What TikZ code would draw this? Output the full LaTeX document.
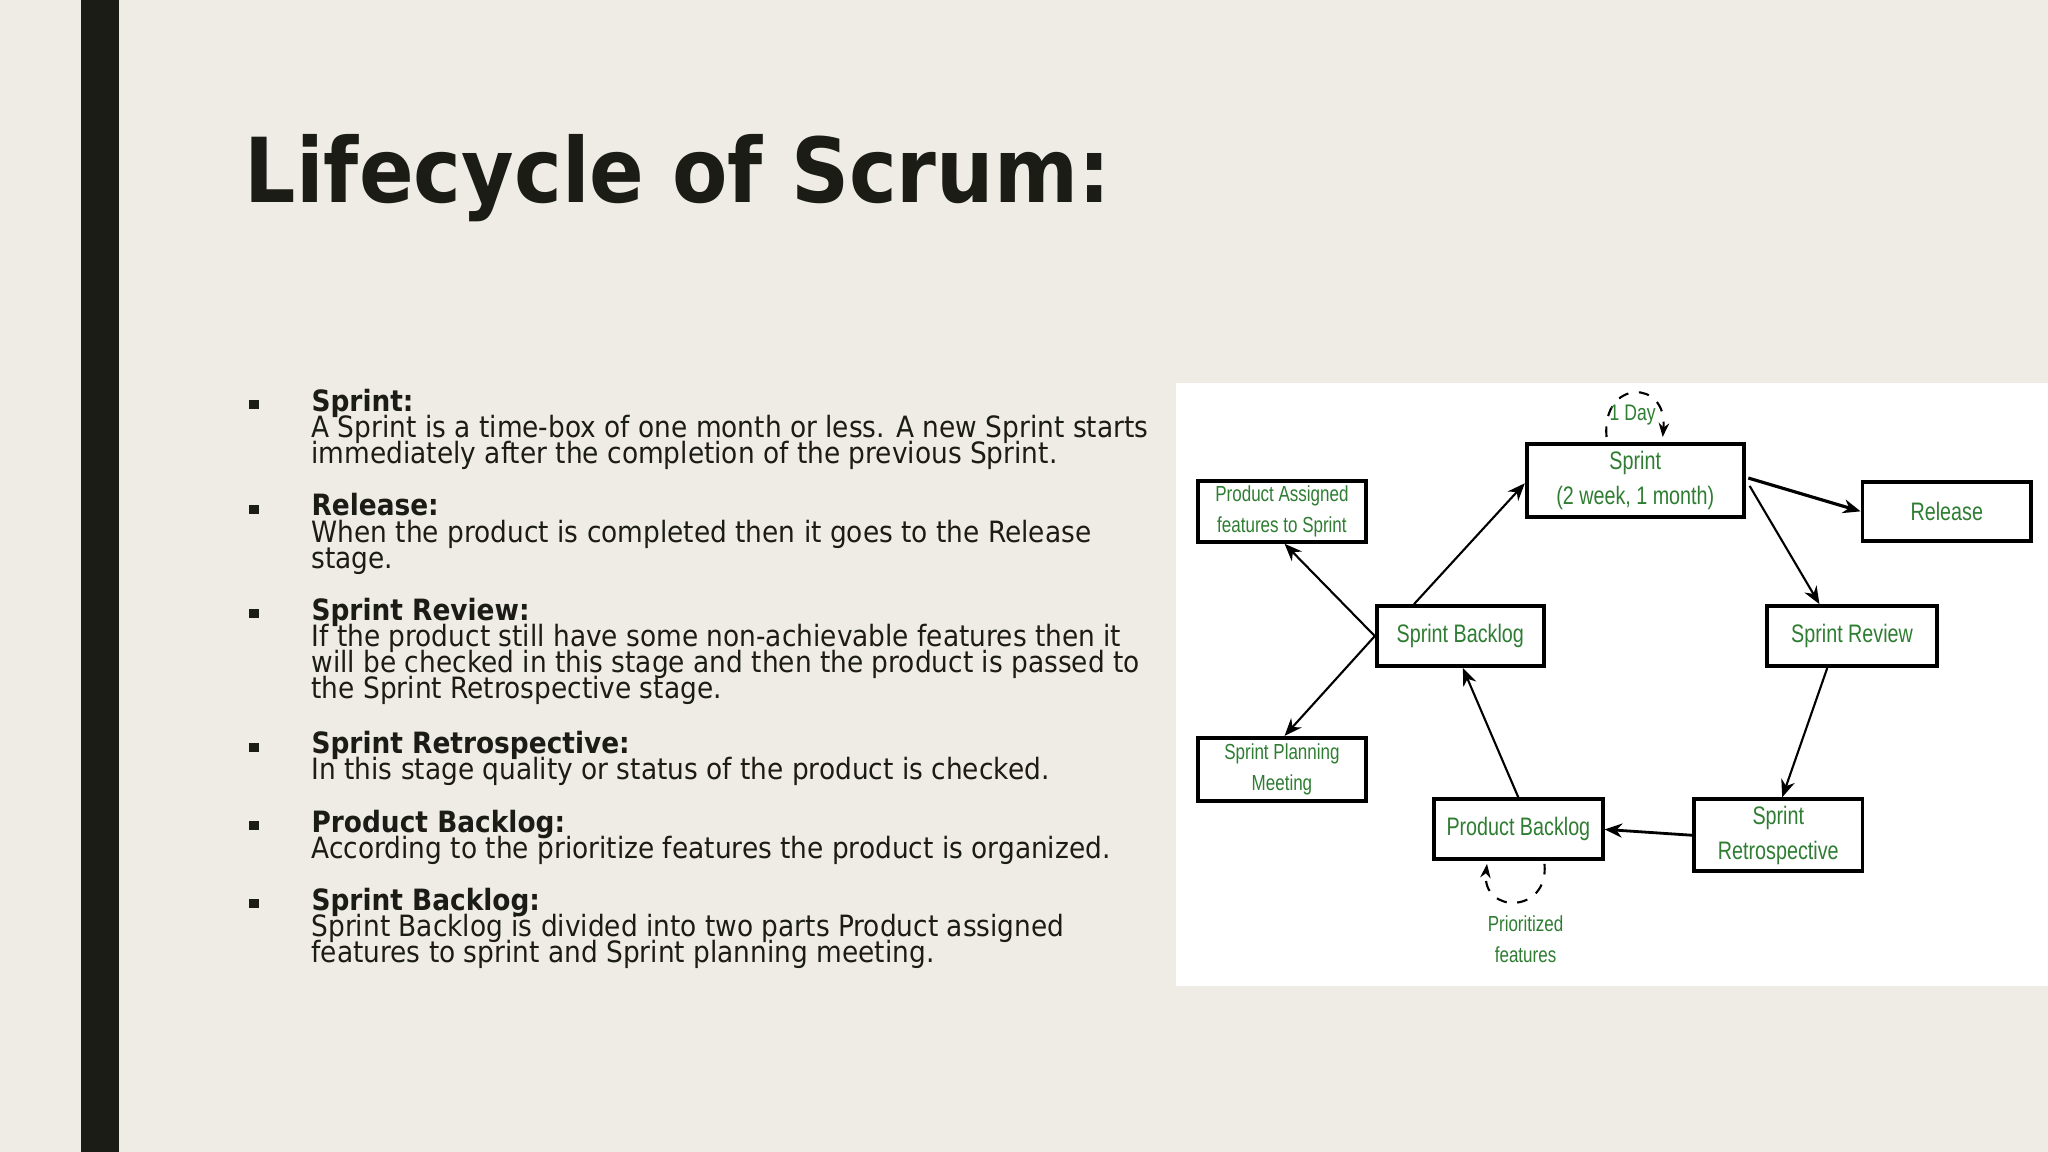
\documentclass[tikz,border=0pt]{standalone}
\usepackage{fontspec}
\setmainfont{DejaVu Sans}[FakeStretch=0.9]
\newfontfamily\narrowf{Liberation Sans}[FakeStretch=0.78]
\usetikzlibrary{arrows.meta,calc}
\definecolor{bg}{HTML}{EFECE6}
\definecolor{bar}{HTML}{1C1C17}
\definecolor{grn}{HTML}{2E7D32}
\begin{document}
\begin{tikzpicture}[x=0.013061cm,y=-0.013061cm,
  line/.style={anchor=base west,inner sep=0,font=\fontsize{8.35}{8.5}\selectfont,text=bar},
  head/.style={line,font=\fontsize{8.35}{8.5}\selectfont\bfseries},
  box/.style={draw=black,line width=1.1pt,fill=white,text=grn,align=center,inner sep=0,font=\narrowf\fontsize{7.2}{8}\selectfont},
  sbox/.style={box,font=\narrowf\fontsize{6.2}{9}\selectfont},
  tbox/.style={box,font=\narrowf\fontsize{7.2}{10}\selectfont},
  lbl/.style={text=grn,align=center,inner sep=0,font=\narrowf\fontsize{6.2}{9}\selectfont},
  arr/.style={-{Stealth[length=5pt,width=4pt]},line width=0.6pt},
  dsh/.style={-{Stealth[length=4pt,width=3pt]},dashed,line width=0.6pt}]
\fill[bg] (0,0) rectangle (1568,882);
\useasboundingbox (0,0) rectangle (1568,882);
\fill[bar] (62,0) rectangle (91,882);
\node[anchor=base west,inner sep=0,text=bar,font=\fontsize{25.5}{30}\selectfont\bfseries] (title) at (187,155) {Lifecycle of Scrum:};
% bullets
\foreach \yy in {310,390,470,572,632,692}{\fill[bar] (191,\yy-3.5) rectangle (198,\yy+3.5);}
\node[head] (h1) at (238,315) {Sprint:};
\node[line] (l11) at (238,335) {A Sprint is a time-box of one month or less. A new Sprint starts};
\node[line] (l12) at (238,355) {immediately after the completion of the previous Sprint.};
\node[head] (h2) at (238,395) {Release:};
\node[line] (l21) at (238,415) {When the product is completed then it goes to the Release};
\node[line] (l22) at (238,435) {stage.};
\node[head] (h3) at (238,475) {Sprint Review:};
\node[line] (l31) at (238,495) {If the product still have some non-achievable features then it};
\node[line] (l32) at (238,515) {will be checked in this stage and then the product is passed to};
\node[line] (l33) at (238,535) {the Sprint Retrospective stage.};
\node[head] (h4) at (238,577) {Sprint Retrospective:};
\node[line] (l41) at (238,597) {In this stage quality or status of the product is checked.};
\node[head] (h5) at (238,637) {Product Backlog:};
\node[line] (l51) at (238,657) {According to the prioritize features the product is organized.};
\node[head] (h6) at (238,697) {Sprint Backlog:};
\node[line] (l61) at (238,717) {Sprint Backlog is divided into two parts Product assigned};
\node[line] (l62) at (238,737) {features to sprint and Sprint planning meeting.};
% diagram
\fill[white] (900,293) rectangle (1568,755);
\node[tbox,minimum width=2.17cm,minimum height=0.73cm] (sp) at (1252,368) {Sprint\\(2 week, 1 month)};
\node[sbox,minimum width=1.685cm,minimum height=0.61cm] (pa) at (981.5,391.5) {Product Assigned\\features to Sprint};
\node[box,minimum width=1.685cm,minimum height=0.59cm] (rel) at (1490.5,391.5) {Release};
\node[box,minimum width=1.67cm,minimum height=0.6cm] (sb) at (1118,487) {Sprint Backlog};
\node[box,minimum width=1.70cm,minimum height=0.6cm] (sr) at (1418,487) {Sprint Review};
\node[sbox,minimum width=1.685cm,minimum height=0.63cm] (spm) at (981.5,589) {Sprint Planning\\Meeting};
\node[box,minimum width=1.685cm,minimum height=0.6cm] (pb) at (1162.5,635) {Product Backlog};
\node[tbox,minimum width=1.685cm,minimum height=0.72cm] (ret) at (1361.5,639.5) {Sprint\\Retrospective};
\draw[arr] ($(sb.north west)+(30,0)$) -- ($(sp.west)+(0,2)$);
\draw[arr,line width=0.9pt] ($(sp.east)+(2,-2)$) -- (rel.west);
\draw[arr] ($(sp.east)+(3,4)$) -- ($(sr.north)+(-25,0)$);
\draw[arr] ($(sr.south)+(-19,0)$) -- ($(ret.north)+(3,0)$);
\draw[arr,line width=0.8pt] (ret.west) -- (pb.east);
\draw[arr] (pb.north) -- ($(sb.south)+(2,0)$);
\draw[arr] (sb.west) -- ($(pa.south)+(2,0)$);
\draw[arr] (sb.west) -- ($(spm.north)+(2,0)$);
\draw[dsh] ($(sp.north)+(-22,-4)$) .. controls (1226,290) and (1277,290) .. ($(sp.north)+(21,-4)$);
\node[lbl,font=\narrowf\fontsize{6.4}{9}\selectfont] (day) at (1250,318) {1 Day};
\draw[dsh] ($(pb.south)+(20,2)$) .. controls (1186,700) and (1134,700) .. ($(pb.south)+(-24,2)$);
\node[lbl] (pf) at (1168,719) {Prioritized\\features};
\end{tikzpicture}
\end{document}
